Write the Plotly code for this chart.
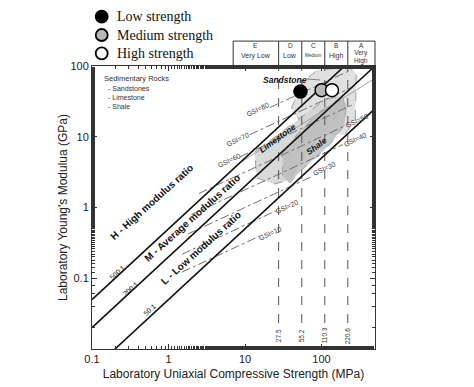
import numpy as np
import plotly.graph_objects as go

# ---------------- data ----------------
strength_names = ["Low strength", "Medium strength", "High strength"]
sample_ucs = [53.0, 100.0, 137.0]          # MPa
sample_e = [43.6, 45.5, 45.5]              # GPa
sample_colors = ["#000000", "#b8b8b8", "#ffffff"]

ratio_values = [500, 200, 50]              # modulus ratio E/UCS
ratio_labels = ["500:1", "200:1", "50:1"]
ratio_label_ucs = [0.213, 0.325, 0.574]
ratio_label_e = [0.1225, 0.0705, 0.0356]

zone_labels = ["H - High modulus ratio", "M - Average modulus ratio", "L - Low modulus ratio"]
zone_label_ucs = [0.592, 2.08, 2.69]
zone_label_e = [1.196, 0.711, 0.272]

class_bounds = [27.5, 55.2, 110.3, 220.6]  # MPa
class_letters = ["E", "D", "C", "B", "A"]
class_names = ["Very Low", "Low", "Medium", "High", "Very<br>High"]
class_box_left = 7.0
class_box_right = 500.0

gsi_values = [80, 70, 60, 50, 40, 30, 20, 10]
gsi_ucs_start = [21.0, 11.5, 8.6, 2.5, 2.0, 1.8, 1.5, 1.5]
gsi_e_start = [25.8, 10.7, 5.21, 1.58, 0.795, 0.424, 0.218, 0.122]
gsi_ucs_end = [250.0, 250.0, 250.0, 190.0, 190.0, 76.0, 25.9, 15.5]
gsi_e_end = [88.9, 50.0, 28.1, 13.8, 7.75, 2.76, 0.905, 0.394]
gsi_label_ucs = [14.6, 8.03, 6.13, 293.0, 276.0, 109.0, 35.9, 21.0]
gsi_label_e = [23.9, 9.0, 4.69, 16.7, 9.29, 3.61, 1.02, 0.436]

trend_ucs = [8.5, 460.0]
trend_e = [4.26, 63.4]

sandstone_ucs = [40.6, 56.4, 88.4, 245, 284, 276, 199, 94, 51.5, 40.6]
sandstone_e = [25.5, 59.4, 87.8, 96.8, 74.6, 17.2, 10.6, 11.7, 17.2, 25.5]
limestone_ucs = [13.4, 24.4, 51.5, 109, 187, 199, 127, 59.9, 38.2, 24.4, 14.2, 13.4]
limestone_e = [6.09, 9.92, 18.4, 33.0, 38.9, 28.1, 14.7, 5.52, 2.45, 2.15, 2.61, 6.09]
shale_ucs = [31.0, 51.5, 94, 161, 211, 199, 127, 51.5, 38.2, 31.0, 31.0]
shale_e = [6.09, 11.7, 22.4, 33.0, 30.0, 14.7, 7.65, 3.18, 2.22, 2.79, 6.09]

rock_labels = ["Sandstone", "Limestone", "Shale"]
rock_label_ucs = [32.9, 26.7, 85.9]
rock_label_e = [64.4, 9.6, 7.4]
rock_label_angle = [0, -36, -37]

vline_e_bottom = 0.0233
vline_label_e = 0.0155

legend_lines = ["Sedimentary Rocks", "- Sandstones", "- Limestone", "- Shale"]

X_MIN, X_MAX = 0.1, 500.0
Y_MIN, Y_MAX = 0.01, 100.0
FONT = "Liberation Sans, Arial, Helvetica, sans-serif"
SERIF = "Liberation Serif, Times New Roman, serif"

lx0, lx1 = np.log10(X_MIN), np.log10(X_MAX)


def xpaper(v):
    return (np.log10(v) - lx0) / (lx1 - lx0)


fig = go.Figure()

# shaded rock regions
for xs, ys, col in [(sandstone_ucs, sandstone_e, "rgba(225,225,225,1)"),
                    (limestone_ucs, limestone_e, "rgba(210,210,210,0.85)"),
                    (shale_ucs, shale_e, "rgba(185,185,185,0.8)")]:
    fig.add_trace(go.Scatter(x=xs, y=ys, mode="lines", fill="toself", fillcolor=col,
                             line=dict(color="#a0a0a0", width=1, dash="dash"),
                             hoverinfo="skip", showlegend=False))

# thin trend line through the rock fields
fig.add_trace(go.Scatter(x=trend_ucs, y=trend_e, mode="lines",
                         line=dict(color="#9a9a9a", width=0.9),
                         hoverinfo="skip", showlegend=False))

# GSI dash-dot lines
for g, xs, ys, xe, ye in zip(gsi_values, gsi_ucs_start, gsi_e_start, gsi_ucs_end, gsi_e_end):
    fig.add_trace(go.Scatter(x=[xs, xe], y=[ys, ye], mode="lines",
                             line=dict(color="#707070", width=1, dash="dashdot"),
                             hoverinfo="skip", showlegend=False))

# vertical strength class lines
for b in class_bounds:
    fig.add_trace(go.Scatter(x=[b, b], y=[vline_e_bottom, Y_MAX], mode="lines",
                             line=dict(color="#555555", width=1, dash="dash"),
                             hoverinfo="skip", showlegend=False))

# modulus ratio lines E(GPa) = MR * UCS(MPa) / 1000
for mr in ratio_values:
    xs = np.array([X_MIN, X_MAX])
    fig.add_trace(go.Scatter(x=xs, y=mr * xs / 1000.0, mode="lines",
                             line=dict(color="#111111", width=1.6),
                             hoverinfo="skip", showlegend=False))

# sandstone leader line
fig.add_trace(go.Scatter(x=[63.6, 96.8], y=[65.5, 63.4], mode="lines",
                         line=dict(color="#666", width=0.8), hoverinfo="skip", showlegend=False))

# sample points
for name, xv, yv, col in zip(strength_names, sample_ucs, sample_e, sample_colors):
    fig.add_trace(go.Scatter(x=[xv], y=[yv], mode="markers", name=name, showlegend=False,
                             marker=dict(size=13, color=col, line=dict(color="#000000", width=1.5))))

ann = []
shapes = []


def label(x, y, text, size, angle=0, color="#222", family=FONT, **kw):
    d = dict(x=x, y=y, text=text, showarrow=False, textangle=angle, xanchor="center",
             yanchor="middle", font=dict(family=family, size=size, color=color))
    d.update(kw)
    ann.append(d)


# ratio labels
for t, xv, yv in zip(ratio_labels, ratio_label_ucs, ratio_label_e):
    label(np.log10(xv), np.log10(yv), t, 7, -42)
# zone labels
for t, xv, yv in zip(zone_labels, zone_label_ucs, zone_label_e):
    label(np.log10(xv), np.log10(yv), "<b>" + t + "</b>", 10, -42, "#111")
# GSI labels
for g, xv, yv in zip(gsi_values, gsi_label_ucs, gsi_label_e):
    label(np.log10(xv), np.log10(yv), "GSI=%d" % g, 7, -25, "#444")
# rock labels
for t, xv, yv, a in zip(rock_labels, rock_label_ucs, rock_label_e, rock_label_angle):
    label(np.log10(xv), np.log10(yv), "<b><i>" + t + "</i></b>", 8.5, a, "#111")
# vertical line labels
for b in class_bounds:
    label(np.log10(b), np.log10(vline_label_e), str(b), 6.5, -90, "#333")
# sedimentary rocks key
for i, t in enumerate(legend_lines):
    label(0.034 if i == 0 else 0.05, 0.955 - i * 0.033, t, 7.5 if i == 0 else 7, 0, "#333",
          xref="paper", yref="paper", xanchor="left")

# strength legend (drawn at the top-left, outside the plot)
leg_y = [1.1742, 1.1095, 1.0449]
for name, col, ly in zip(strength_names, sample_colors, leg_y):
    shapes.append(dict(type="circle", xref="paper", yref="paper", xsizemode="pixel",
                       ysizemode="pixel", xanchor=0.0343, yanchor=ly, x0=-6, x1=6, y0=-6, y1=6,
                       fillcolor=col, line=dict(color="#000", width=1.8)))
    label(0.081, ly, name, 14, 0, "#111", family=SERIF, xref="paper", yref="paper",
          xanchor="left")

# strength class box
edges = [class_box_left] + class_bounds + [class_box_right]
box_top = 1.088
shapes.append(dict(type="rect", xref="paper", yref="paper", x0=xpaper(class_box_left), x1=1.0,
                   y0=1.0, y1=box_top, line=dict(color="#333", width=1)))
for b in class_bounds:
    shapes.append(dict(type="line", xref="paper", yref="paper", x0=xpaper(b), x1=xpaper(b),
                       y0=1.0, y1=box_top, line=dict(color="#333", width=1)))
for i, (L, N) in enumerate(zip(class_letters, class_names)):
    cx = xpaper(np.sqrt(edges[i] * edges[i + 1]))
    label(cx, 1.074, L, 6.5, 0, "#333", xref="paper", yref="paper")
    if N == "Medium":
        fs, yy = 4.5, 1.036
    elif "<br>" in N:
        fs, yy = 6.5, 1.032
    else:
        fs, yy = 7, 1.036
    label(cx, yy, N, fs, 0, "#333", xref="paper", yref="paper")

fig.update_layout(
    width=474, height=387,
    margin=dict(l=92, r=99, t=66, b=38, autoexpand=False),
    paper_bgcolor="white", plot_bgcolor="white",
    font=dict(family=FONT, color="#222"),
    annotations=ann, shapes=shapes,
    showlegend=False,
)
axis_common = dict(type="log", showline=True, linecolor="#333", linewidth=1, mirror="ticks",
                   ticks="inside", ticklen=5, tickcolor="#333", showgrid=False, zeroline=False,
                   automargin=False,
                   tickfont=dict(family=FONT, size=11, color="#222"),
                   minor=dict(ticks="inside", ticklen=3, tickcolor="#333", showgrid=False))
fig.update_xaxes(**axis_common, range=[lx0, lx1], tickvals=[0.1, 1, 10, 100],
                 ticktext=["0.1", "1", "10", "100"],
                 title=dict(text="Laboratory Uniaxial Compressive Strength (MPa)", standoff=5,
                            font=dict(family=FONT, size=12, color="#222")))
fig.update_yaxes(**axis_common, range=[-2, 2], tickvals=[0.1, 1, 10, 100],
                 ticktext=["0.1", "1", "10", "100"],
                 title=dict(text="Laboratory Young's Modulua (GPa)", standoff=0,
                            font=dict(family=FONT, size=12, color="#222")))

fig.write_html("out.html", config={"displayModeBar": False},
               post_script="document.body.style.margin='0';document.body.style.padding='0';")
